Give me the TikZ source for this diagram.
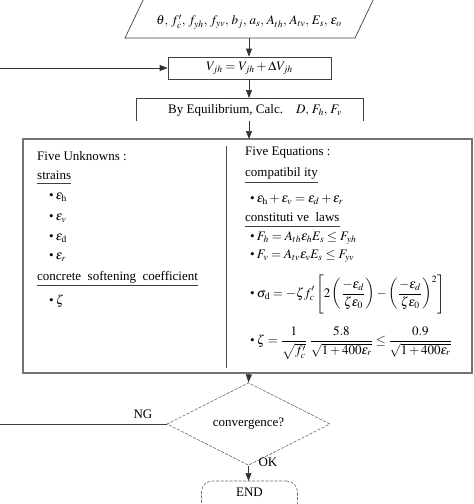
\documentclass[tikz,border=0pt]{standalone}
\usepackage{mathptmx}
\usepackage{fontspec}
\setmainfont{Liberation Serif}
\usetikzlibrary{arrows.meta,shapes.geometric}
\tikzset{
  flow/.style={draw=black!75, line width=0.7pt},
  arr/.style={draw=black!80, line width=0.7pt, -{Triangle[length=8pt,width=6pt]}},
  txt/.style={inner sep=0pt, anchor=west},
  dashbox/.style={draw=black!60, dashed, dash pattern=on 3pt off 1.5pt, line width=0.6pt},
  uline/.style={draw=black!75, line width=0.9pt}
}
\begin{document}
\begin{tikzpicture}[x=1pt,y=-1pt, font=\fontsize{13}{15}\selectfont]
\useasboundingbox (0,0) rectangle (474,504);
\clip (0,0) rectangle (474,504);
% input parallelogram
\draw[flow] (125,38) -- (146,-6) -- (376,-6) -- (355,38) -- cycle;
\node[inner sep=0pt] (inp) at (249,22) {$\theta,\, f'_c,\, f_{yh},\, f_{yv},\, b_j,\, a_s,\, A_{th},\, A_{tv},\, E_s,\, \varepsilon_o$};
\coordinate (inpB) at (249,38);
% Vjh box
\node[flow, minimum width=163pt, minimum height=22pt, inner sep=0pt] (vjh) at (249.5,68) {$V_{jh} = V_{jh} + \Delta V_{jh}$};
\coordinate (loopL) at (0,68);
% equilibrium
\draw[flow] (136,121) -- (136,98) -- (363,98) -- (363,121);
\coordinate (eqT) at (249,98);
\coordinate (eqB) at (249,121);
\node[inner sep=0pt] (eq) at (255,110) {By Equilibrium, Calc.\quad$D,\, F_h,\, F_v$};
% big box
\node[draw=black!55, line width=1.1pt, minimum width=449pt, minimum height=234pt, inner sep=0pt] (big) at (247.5,256) {};
\coordinate (bigT) at (249,139);
\coordinate (bigB) at (249,373);
\draw[draw=black!70, line width=0.6pt] (226,146) -- (226,368);
% left column
\node[txt] (fu) at (37,156) {Five Unknowns :};
\node[txt] (st) at (37,175) {strains};
\draw[uline] ([yshift=-4pt]st.base west) -- ([yshift=-4pt]st.base east);
\node[txt] (l1) at (49,197) {\textbullet\,$\varepsilon_{\mathrm{h}}$};
\node[txt] (l2) at (49,218) {\textbullet\,$\varepsilon_{v}$};
\node[txt] (l3) at (49,238) {\textbullet\,$\varepsilon_{\mathrm{d}}$};
\node[txt] (l4) at (49,257) {\textbullet\,$\varepsilon_{r}$};
\node[txt] (cs) at (37,277) {concrete\ \ softening\ \ coefficient};
\draw[uline] ([yshift=-5pt]cs.base west) -- ([yshift=-5pt]cs.base east);
\node[txt] (l5) at (49,301) {\textbullet\,$\zeta$};
% right column
\node[txt] (fe) at (245,153) {Five Equations :};
\node[txt] (cp) at (245,173) {compatibil ity};
\draw[uline] ([yshift=-6pt]cp.base west) -- ([yshift=-6pt]cp.base east);
\node[txt] (r1) at (250,200) {\textbullet\,$\varepsilon_{\mathrm{h}} + \varepsilon_{v} = \varepsilon_{d} + \varepsilon_{r}$};
\node[txt] (cl) at (245,217) {constituti ve\ \ laws};
\draw[uline] ([yshift=-5pt]cl.base west) -- ([yshift=-5pt]cl.base east);
\node[txt] (r2) at (250,238) {\textbullet\,$F_h = A_{th}\varepsilon_h E_s \le F_{yh}$};
\node[txt] (r3) at (250,256) {\textbullet\,$F_v = A_{tv}\varepsilon_v E_s \le F_{yv}$};
\node[txt] (r4) at (250,294) {\textbullet\,$\displaystyle \sigma_{\mathrm{d}} = -\zeta f'_c\left[2\left(\frac{-\varepsilon_d}{\zeta\varepsilon_0}\right)-\left(\frac{-\varepsilon_d}{\zeta\varepsilon_0}\right)^{2}\right]$};
\node[txt] (r5) at (250,343) {\textbullet\,$\displaystyle \zeta = \frac{1}{\sqrt{f'_c}}\;\frac{5.8}{\sqrt{1+400\varepsilon_r}} \le \frac{0.9}{\sqrt{1+400\varepsilon_r}}$};
% decision
\node[dashbox, diamond, minimum width=163pt, minimum height=38pt, inner sep=0pt] (conv) at (248.5,424) {convergence?};
\coordinate (ngL) at (0,424);
\node[inner sep=0pt] (ng) at (143,414) {NG};
% end
\node[dashbox, rounded corners=11pt, minimum width=96pt, minimum height=32pt, inner sep=0pt] (end) at (249.5,497) {};
\node[inner sep=0pt] (endt) at (249.5,492) {END};
\coordinate (endT) at (248.5,481);
\node[inner sep=0pt] (ok) at (268,462) {OK};
% connectors
\draw[arr] (inpB) -- (vjh.north -| inpB);
\draw[arr] (loopL) -- (vjh.west);
\draw[arr] (vjh.south -| eqT) -- (eqT);
\draw[arr] (eqB) -- (bigT);
\draw[arr] (bigB) -- (conv.north);
\draw[flow] (conv.west) -- (ngL);
\draw[arr] (conv.south) -- (endT);
\end{tikzpicture}
\end{document}
